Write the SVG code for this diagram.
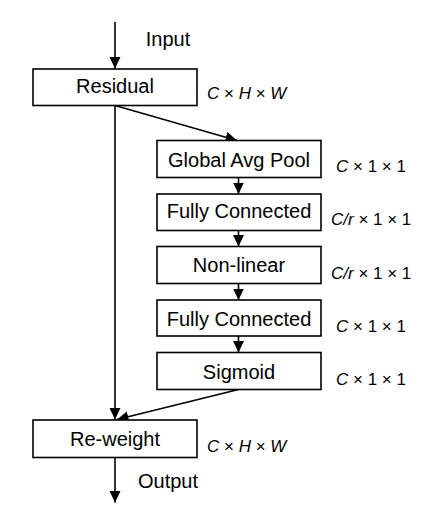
<svg xmlns="http://www.w3.org/2000/svg" width="425" height="518" viewBox="0 0 425 518">
<defs>
<marker id="ah" markerUnits="userSpaceOnUse" markerWidth="13" markerHeight="12" refX="11.5" refY="5.5" orient="auto">
<path d="M0,0 L11.5,5.5 L0,11 z" fill="#000"/>
</marker>
<style>
.box{fill:#fff;stroke:#000;stroke-width:1.6}
.t{font-family:"Liberation Sans",Arial,sans-serif;font-size:20px;text-anchor:middle;fill:#000}
.d{font-family:"Liberation Sans",Arial,sans-serif;font-size:17px;fill:#000}
.i{font-style:italic}
.c{fill:none;stroke:#000;stroke-width:1.6;marker-end:url(#ah)}
</style>
</defs>
<rect width="425" height="518" fill="#fff"/>
<g id="connectors">
<line class="c" x1="115" y1="22" x2="115" y2="68.5"/>
<line class="c" x1="115" y1="105.5" x2="237" y2="140.5"/>
<line class="c" x1="115" y1="105.5" x2="115" y2="419.5"/>
<line class="c" x1="238.5" y1="177.5" x2="238.5" y2="194"/>
<line class="c" x1="238.5" y1="230.5" x2="238.5" y2="246.5"/>
<line class="c" x1="238.5" y1="283.5" x2="238.5" y2="300"/>
<line class="c" x1="238.5" y1="336" x2="238.5" y2="352.5"/>
<line class="c" x1="238.5" y1="389.5" x2="117" y2="419.5"/>
<line class="c" x1="115" y1="457.5" x2="115" y2="502.5"/>
</g>
<g id="input"><text class="t" x="168" y="45.5">Input</text></g>
<g id="residual">
<rect class="box" x="33" y="69" width="164" height="36.5"/>
<text class="t" x="115" y="93">Residual</text>
<text class="d" x="207" y="99"><tspan class="i">C</tspan> × <tspan class="i">H</tspan> × <tspan class="i">W</tspan></text>
</g>
<g id="gap">
<rect class="box" x="157" y="140.5" width="164" height="37"/>
<text class="t" x="239" y="166.5">Global Avg Pool</text>
<text class="d" x="336" y="172">
<tspan class="i">C</tspan> × 1 × 1</text>
</g>
<g id="fc1">
<rect class="box" x="157" y="194" width="164" height="36.5"/>
<text class="t" x="239" y="218">Fully Connected</text>
<text class="d" x="331" y="224.5"><tspan class="i">C/r</tspan> × 1 × 1</text>
</g>
<g id="nonlinear">
<rect class="box" x="157" y="246.5" width="164" height="37"/>
<text class="t" x="239" y="272">Non-linear</text>
<text class="d" x="331" y="278.5"><tspan class="i">C/r</tspan> × 1 × 1</text>
</g>
<g id="fc2">
<rect class="box" x="157" y="300" width="164" height="36"/>
<text class="t" x="239" y="325.5">Fully Connected</text>
<text class="d" x="336" y="331.5"><tspan class="i">C</tspan> × 1 × 1</text>
</g>
<g id="sigmoid">
<rect class="box" x="157" y="352.5" width="164" height="37"/>
<text class="t" x="239" y="378.5">Sigmoid</text>
<text class="d" x="336" y="384.5"><tspan class="i">C</tspan> × 1 × 1</text>
</g>
<g id="reweight">
<rect class="box" x="33" y="420" width="164" height="37.5"/>
<text class="t" x="115" y="446">Re-weight</text>
<text class="d" x="207" y="452"><tspan class="i">C</tspan> × <tspan class="i">H</tspan> × <tspan class="i">W</tspan></text>
</g>
<g id="output"><text class="t" x="168" y="488">Output</text></g>
</svg>
